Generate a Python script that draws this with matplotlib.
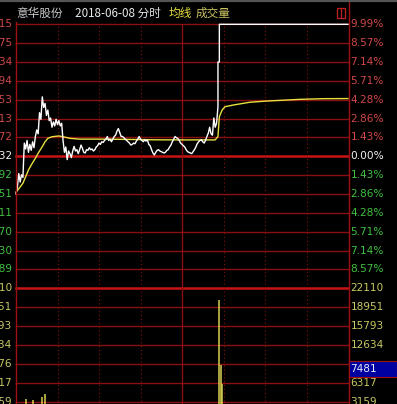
import numpy as np
import matplotlib.pyplot as plt
from matplotlib.patches import Rectangle
from matplotlib.lines import Line2D

# ---------------------------------------------------------
# Data (% change vs. prev close)
# ---------------------------------------------------------
price_min = [0, 1, 2, 3, 4, 5, 6, 7, 8, 9, 10, 11, 12, 13, 14, 15, 16, 17, 18, 19,
             20, 21, 22, 23, 24, 25, 26, 27, 28, 29, 30, 31, 32, 33, 34, 35, 36, 37, 38, 39,
             40, 41, 42, 43, 44, 45, 46, 47, 48, 49, 50, 51, 52, 53, 54, 55, 56, 57, 58, 59,
             60, 61, 62, 63, 64, 65, 66, 67, 68, 69, 70, 71, 72, 73, 74, 75, 76, 77, 78, 79,
             80, 81, 82, 83, 84, 85, 86, 87, 88, 89, 90, 91, 92, 93, 94, 95, 96, 97, 98, 99,
             100, 101, 102, 103, 104, 105, 106, 107, 108, 109, 110, 111, 112, 113, 114, 115,
             116, 117, 118, 119, 120, 121, 122, 123, 124, 125, 126, 127, 128, 129, 130, 131,
             132, 133, 134, 135, 136, 137, 138, 139, 140, 141, 142, 143, 144, 145, 146, 146,
             147, 147, 240]
price_pct = [-2.85, -2.35, -1.3, -1.95, -1.4, -1.6, 1.0, 0.55, 1.2, 0.3, 0.9, 0.45, 1.1, 0.65,
             1.5, 2.0, 1.7, 3.3, 2.8, 4.5, 3.7, 4.0, 3.1, 3.5, 2.7, 2.9, 2.2, 2.6, 2.3, 2.8,
             2.4, 2.7, 2.3, 2.5, 1.2, 0.3, 0.7, -0.25, 0.4, 0.2, -0.1, 0.4, 0.75, 0.4, 0.5,
             0.2, 0.5, 0.85, 0.6, 0.3, 0.25, 0.5, 0.45, 0.65, 0.5, 0.55, 0.4, 0.5, 0.7, 0.8,
             1.0, 0.9, 1.1, 1.05, 1.2, 1.3, 1.5, 1.2, 1.3, 1.1, 1.3, 1.5, 1.6, 1.9, 2.1, 1.8,
             1.5, 1.5, 1.4, 1.3, 1.2, 1.1, 1.0, 0.85, 0.9, 1.0, 0.95, 1.15, 1.3, 1.5, 1.3,
             1.2, 1.1, 1.25, 1.15, 1.25, 0.9, 0.8, 0.5, 0.25, 0.1, 0.3, 0.45, 0.5, 0.4, 0.35,
             0.3, 0.25, 0.3, 0.45, 0.5, 0.7, 0.85, 1.1, 1.3, 1.5, 1.4, 1.35, 1.2, 1.0, 0.9,
             0.8, 0.7, 0.5, 0.35, 0.3, 0.25, 0.2, 0.35, 0.5, 0.7, 0.95, 1.1, 1.2, 1.25, 1.1,
             1.0, 1.2, 1.5, 1.75, 2.2, 1.7, 1.6, 2.9, 2.2, 2.5, 3.75, 7.14, 7.14, 9.99, 9.99]

avg_min = [0, 3, 5, 9, 11, 14, 16, 19, 21, 23, 26, 31, 34, 39, 46, 60, 80, 100, 120, 144,
           146, 147, 149, 151, 157, 169, 181, 205, 222, 240]
avg_pct = [-2.72, -2.32, -2.04, -1.04, -0.66, -0.15, 0.23, 0.73, 1.1, 1.36, 1.48, 1.54, 1.48,
           1.36, 1.3, 1.3, 1.28, 1.25, 1.24, 1.24, 1.5, 3.0, 3.5, 3.75, 3.88, 4.09, 4.18,
           4.31, 4.36, 4.37]

vol_min = [0, 7, 12, 19, 21, 147, 148, 149]
vol_val = [4170, 3570, 3450, 4000, 4400, 20150, 9300, 6100]

pct_labels = ["9.99%", "8.57%", "7.14%", "5.71%", "4.28%", "2.86%", "1.43%", "0.00%",
              "1.43%", "2.86%", "4.28%", "5.71%", "7.14%", "8.57%"]
price_labels = ["31.15", "30.75", "30.34", "29.94", "29.53", "29.13", "28.72", "28.32",
                "27.92", "27.51", "27.11", "26.70", "26.30", "25.89"]
vol_labels = ["22110", "18951", "15793", "12634", "9476", "6317", "3159"]
vol_now = "7481"
limit_pct = 9.99
vol_max = 22110

# ---------------------------------------------------------
# Layout helpers (pixels -> figure fraction)
# ---------------------------------------------------------
W, H = 397, 404
fig = plt.figure(figsize=(W / 100, H / 100), dpi=100, facecolor="black")

def fx(x):
    return x / W

def fy(y):
    return 1 - y / H

x0, x1 = 16, 348
yp0, yp1 = 24.3, 288.3
yv_zero = 420.6

GRID = "#8a1010"
ZERO = "#c81414"
RED_T = "#d04848"
GRN_T = "#40c040"
YEL_T = "#c8c864"
num_font = dict(family="DejaVu Sans", fontsize=7.6)

ax_p = fig.add_axes([fx(x0), fy(yp1), (x1 - x0) / W, (yp1 - yp0) / H])
ax_p.set_xlim(0, 240)
ax_p.set_ylim(-limit_pct, limit_pct)
ax_p.axis("off")

ax_v = fig.add_axes([fx(x0), fy(yv_zero), (x1 - x0) / W, (yv_zero - yp1) / H])
ax_v.set_xlim(0, 240)
ax_v.set_ylim(0, vol_max)
ax_v.axis("off")

# price grid
n = len(pct_labels)
for i in range(n + 1):
    v = limit_pct * (7 - i) / 7
    if i == 7 or i == n:
        ax_p.axhline(v, color=ZERO, lw=1.8, clip_on=False, zorder=1)
    else:
        ax_p.axhline(v, color=GRID, lw=1.0, clip_on=False, zorder=1)

for i, lab in enumerate(pct_labels):
    v = limit_pct * (7 - i) / 7
    col = RED_T if i < 7 else ("#f0f0f0" if i == 7 else GRN_T)
    ax_p.text(1.0075, v, lab, color=col, ha="left", va="center",
              transform=ax_p.get_yaxis_transform(), **num_font)
    ax_p.text(-0.012, v, price_labels[i], color=col, ha="right", va="center",
              transform=ax_p.get_yaxis_transform(), **num_font)

# volume grid (right label at 9476 sits under the current-volume box)
for k, lab in enumerate(vol_labels):
    v = vol_max * (7 - k) / 7
    if k > 0:
        ax_v.axhline(v, color=GRID, lw=1.0, clip_on=False, zorder=1)
    if lab != "9476":
        ax_v.text(1.0075, v, lab, color=YEL_T, ha="left", va="center",
                  transform=ax_v.get_yaxis_transform(), **num_font)
    ax_v.text(-0.012, v, lab, color=YEL_T, ha="right", va="center",
              transform=ax_v.get_yaxis_transform(), **num_font)

# vertical half-hour lines
for t in range(30, 240, 30):
    for ax in (ax_p, ax_v):
        if t == 120:
            ax.axvline(t, color=GRID, lw=1.0, zorder=1)
        else:
            ax.axvline(t, color=GRID, lw=0.8, ls=(0, (1, 2.5)), zorder=1)

# borders
fig.add_artist(Line2D([fx(x0 - 0.5), fx(x0 - 0.5)], [fy(22), 0], color="#a01010", lw=1.0))
fig.add_artist(Line2D([fx(x1 + 0.5), fx(x1 + 0.5)], [1, 0], color="#a01010", lw=1.0))
fig.add_artist(Line2D([0, 1], [fy(0.8), fy(0.8)], color="#555555", lw=1.6))

# price and average lines
ax_p.plot(avg_min, avg_pct, color="#e8e040", lw=1.0, zorder=3, clip_on=False)
ax_p.plot(price_min, price_pct, color="white", lw=1.0, zorder=4, clip_on=False)

# volume bars
ax_v.vlines(vol_min, 0, vol_val, color="#d8d050", lw=1.1, zorder=3)

# current volume box
fig.add_artist(Rectangle((fx(349), fy(377)), (W - 349) / W, 16 / H,
                         facecolor="#0000a0", edgecolor="#a01010", lw=0.8, zorder=5))
fig.text(fx(350.5), fy(369), vol_now, color="#e8e8ff", ha="left", va="center",
         zorder=6, **num_font)

# header
cjk = ["Noto Sans CJK SC", "DejaVu Sans"]
fig.text(fx(16), fy(13.5), "意华股份", color="#c8c8c8", fontsize=8.4, family=cjk,
         ha="left", va="center")
fig.text(fx(75), fy(13.5), "2018-06-08 分时", color="#e8e8e8", fontsize=8.4, family=cjk,
         ha="left", va="center")
fig.text(fx(169), fy(13.5), "均线", color="#e8e040", fontsize=8.4, family=cjk,
         ha="left", va="center")
fig.text(fx(196), fy(13.5), "成交量", color="#c8c060", fontsize=8.4, family=cjk,
         ha="left", va="center")

# small window icon
fig.add_artist(Rectangle((fx(336.5), fy(18.3)), 8 / W, 10 / H,
                         facecolor="none", edgecolor="#c02020", lw=0.9))
fig.add_artist(Line2D([fx(340.7), fx(340.7)], [fy(8.3), fy(18.3)], color="#c02020", lw=0.9))

fig.savefig("out.png", dpi=100, facecolor="black")
